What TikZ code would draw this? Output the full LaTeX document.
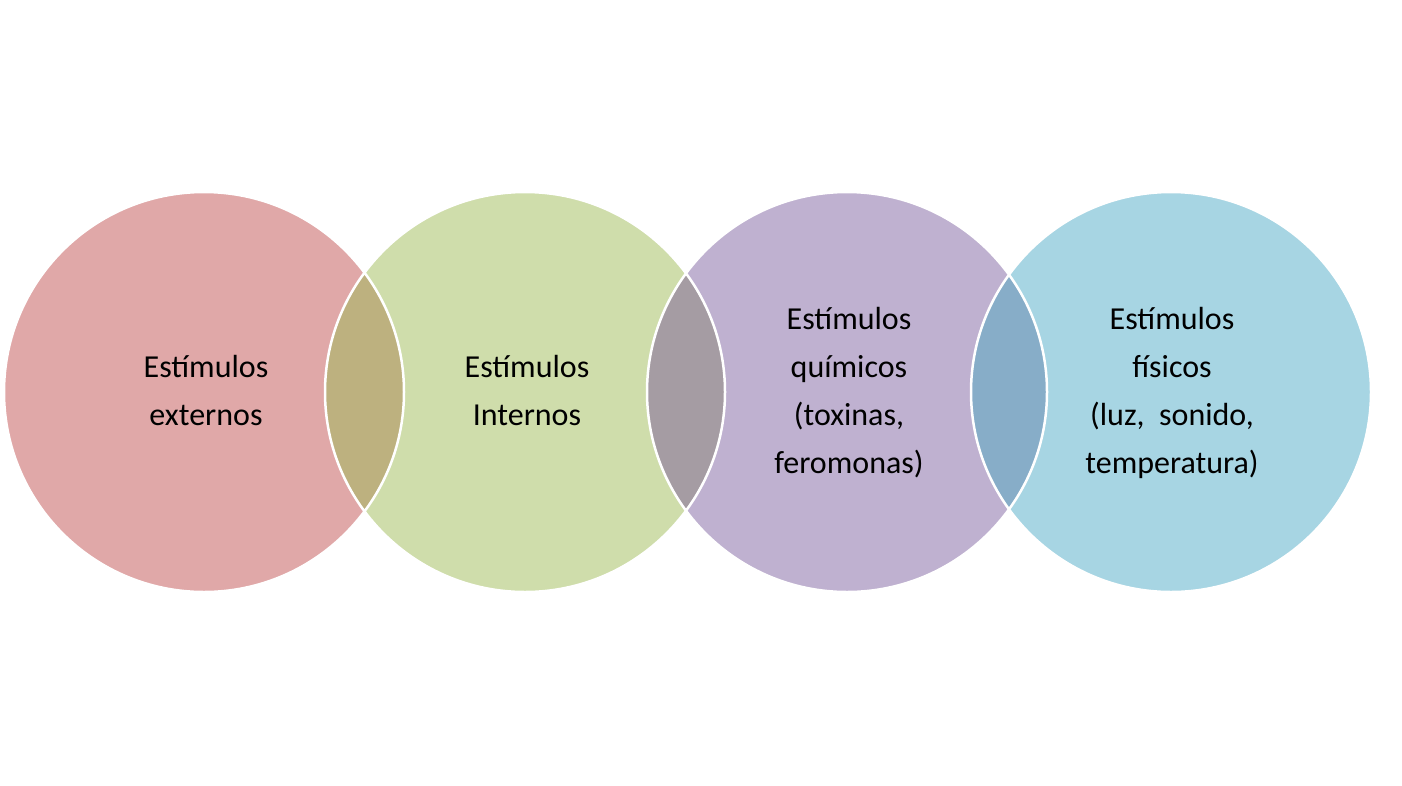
\documentclass[tikz,border=0pt]{standalone}
\usepackage{fontspec}
\setmainfont{Carlito}
\definecolor{cA}{HTML}{E0A8A8}
\definecolor{cB}{HTML}{CFDDAB}
\definecolor{cC}{HTML}{BFB1D0}
\definecolor{cD}{HTML}{A7D5E3}
\definecolor{oAB}{HTML}{BDB17F}
\definecolor{oBC}{HTML}{A59CA3}
\definecolor{oCD}{HTML}{87ADC8}
\begin{document}
\begin{tikzpicture}[x=1pt,y=-1pt,
  lbl/.style={align=center,font=\fontsize{32}{48}\selectfont,text=black}]
\useasboundingbox[fill=white] (0,0) rectangle (1402,785);
\coordinate (A) at (204,392);
\coordinate (B) at (525,392);
\coordinate (C) at (847,392);
\coordinate (D) at (1171,392);
\fill[cA] (A) circle (200);
\fill[cB] (B) circle (200);
\fill[cC] (C) circle (200);
\fill[cD] (D) circle (200);
\begin{scope}\clip (A) circle (200); \fill[oAB] (B) circle (200);\end{scope}
\begin{scope}\clip (B) circle (200); \fill[oBC] (C) circle (200);\end{scope}
\begin{scope}\clip (C) circle (200); \fill[oCD] (D) circle (200);\end{scope}
\draw[white,line width=2.5] (A) circle (200) (B) circle (200) (C) circle (200) (D) circle (200);
\node[lbl] (tA) at (206,390) {Estímulos\\externos};
\node[lbl] (tB) at (527,390) {Estímulos\\Internos};
\node[lbl] (tC) at (849,393) {Estímulos\\químicos\\(toxinas,\\feromonas)};
\node[lbl] (tD) at (1172,393) {Estímulos\\físicos\\(luz,\ \ sonido,\\temperatura)};
\end{tikzpicture}
\end{document}
